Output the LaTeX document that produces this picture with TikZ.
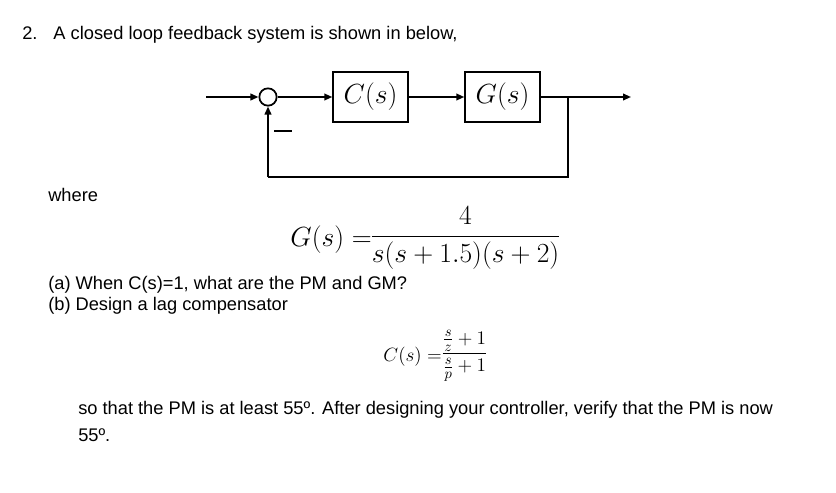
\documentclass[tikz,border=0pt]{standalone}
\usepackage{fontspec}
\setmainfont{Liberation Sans}
\usepackage{amsmath}
\usetikzlibrary{arrows.meta}
\begin{document}
\begin{tikzpicture}[x=0.75pt,y=-0.75pt,
  txt/.style={anchor=base west,inner sep=0pt,font=\fontsize{13.7}{16}\selectfont},
  blk/.style={draw,line width=1.3pt,minimum width=56pt,minimum height=37pt,inner sep=0pt,font=\fontsize{22}{24}\selectfont},
  sig/.style={line width=1.3pt},
  arr/.style={sig,-{Triangle[length=6pt,width=5pt]}}]
\useasboundingbox (0,0) rectangle (836,493);
\node[txt] (t1) at (22,39) {2.\hspace{12pt}A closed loop feedback system is shown in below,};
\coordinate (in) at (206,97);
\node[draw,circle,line width=1.3pt,minimum size=13pt,inner sep=0pt] (sum) at (268,97) {};
\node[blk] (C) at (370.5,97) {$C(s)$};
\node[blk] (G) at (502.5,97) {$G(s)$};
\coordinate (br) at (568,97);
\coordinate (out) at (631,97);
\coordinate (b1) at (568,177);
\coordinate (b2) at (268,177);
\draw[arr] (in) -- (sum);
\draw[arr] (sum) -- (C);
\draw[arr] (C) -- (G);
\draw[arr] (G) -- (out);
\draw[sig] (br) -- (b1) -- (b2);
\draw[arr] (b2) -- (sum);
\node[inner sep=0pt] (minus) at (283,131) {\rule{13pt}{2pt}};
\node[txt] (where) at (48,201) {where};
\node[anchor=east,inner sep=0pt,font=\fontsize{20.5}{24}\selectfont] (Geq) at (372,240) {$G(s)=$};
\node[anchor=west,inner sep=0pt,font=\fontsize{20.5}{24}\selectfont] (Gfr) at (370,238) {$\dfrac{4}{s(s+1.5)(s+2)}$};
\node[txt] (a) at (48,289) {(a) When C(s)=1, what are the PM and GM?};
\node[txt] (b) at (48,310) {(b) Design a lag compensator};
\node[anchor=east,inner sep=0pt,font=\fontsize{15}{18}\selectfont] (Ceq) at (442,357) {$C(s)=$};
\node[anchor=west,inner sep=0pt,font=\fontsize{15}{18}\selectfont] (Cfr) at (441,356) {$\dfrac{\frac{s}{z}+1}{\frac{s}{p}+1}$};
\node[txt] (so) at (78,414) {so that the PM is at least 55º. After designing your controller, verify that the PM is now};
\node[txt] (ff) at (78,441) {55º.};
\end{tikzpicture}
\end{document}
